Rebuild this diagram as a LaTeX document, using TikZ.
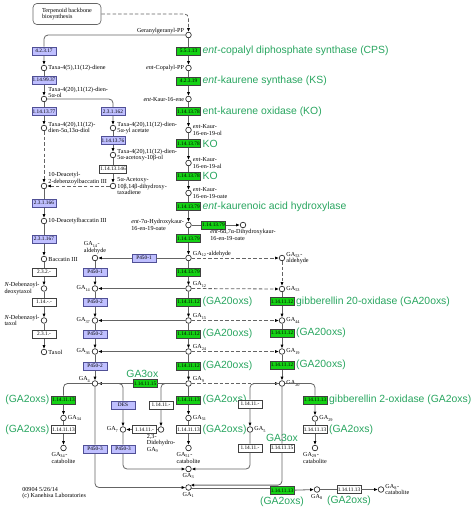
\documentclass[tikz,border=0pt]{standalone}
\usepackage{fontspec}
\setmainfont{Liberation Serif}
\newfontfamily\sansgreen{Liberation Sans}
\usetikzlibrary{arrows.meta}
\definecolor{kgreen}{RGB}{20,210,20}
\definecolor{kblue}{RGB}{191,191,255}
\definecolor{kbluedraw}{RGB}{80,80,150}
\definecolor{ktext}{RGB}{40,165,95}
\definecolor{kline}{RGB}{100,100,100}
\newcommand{\GAn}[1]{GA\textsubscript{#1}}
\tikzset{
  cpd/.style={circle,draw=black!85,fill=white,line width=0.5pt,inner sep=0pt,minimum size=4.2pt},
  enz/.style={rectangle,draw=black!75,line width=0.45pt,inner xsep=0.5pt,inner ysep=0pt,
    minimum width=18pt,minimum height=6.3pt,font=\fontsize{4}{4}\selectfont},
  gbox/.style={enz,fill=kgreen},
  bbox/.style={enz,fill=kblue,draw=kbluedraw},
  wbox/.style={enz,fill=white},
  terpbox/.style={rectangle,rounded corners=3pt,draw=black!60,line width=0.5pt,
    minimum width=51pt,minimum height=13.5pt,font=\fontsize{4.6}{5}\selectfont,align=left},
  lbl/.style={font=\fontsize{4.6}{4.9}\selectfont,inner sep=0.8pt,align=left},
  lblne/.style={lbl,anchor=south west},
  glbl/.style={font=\sansgreen\fontsize{7.8}{8}\selectfont,text=ktext,inner sep=1.2pt},
  rxn/.style={draw=kline,line width=0.6pt,rounded corners=3pt},
  arr/.style={-{Latex[length=2.8pt,width=2.4pt,color=black]}},
  dashrxn/.style={rxn,dash pattern=on 2.6pt off 1.6pt},
}
\begin{document}
\begin{tikzpicture}[x=0.75pt,y=-0.75pt]
  \useasboundingbox (0,0) rectangle (474,512);
  % diterpenoid trunk
  \path
    (67,14) node[terpbox] (terp) {Terpenoid backbone\\biosynthesis}
    (188.5,35) node[cpd,label={[lbl,anchor=south east]west:Geranylgeranyl-PP}] (ggpp) {}
    (188.5,51) node[gbox,label={[glbl]right:\textit{ent}-copalyl diphosphate synthase (CPS)}] (ecps) {5.5.1.13}
    (188.5,68) node[cpd,label={[lbl]left:\textit{ent}-Copalyl-PP}] (cpp) {}
    (188.5,81) node[gbox,label={[glbl]right:\textit{ent}-kaurene synthase (KS)}] (eks) {4.2.3.19}
    (188.5,99) node[cpd,label={[lbl]left:\textit{ent}-Kaur-16-ene}] (kaur) {}
    (188.5,111.5) node[gbox,label={[glbl]right:ent-kaurene oxidase (KO)}] (eko1) {1.14.13.78}
    (188.5,130) node[cpd,label={[lbl]right:\textit{ent}-Kaur-\\16-en-19-ol}] (kol) {}
    (188.5,143.5) node[gbox,label={[glbl]right:KO}] (eko2) {1.14.13.78}
    (188.5,163) node[cpd,label={[lbl]right:\textit{ent}-Kaur-\\16-en-19-al}] (kal) {}
    (188.5,176) node[gbox,label={[glbl]right:KO}] (eko3) {1.14.13.78}
    (188.5,193) node[cpd,label={[lbl]right:\textit{ent}-Kaur-\\16-en-19-oate}] (koate) {}
    (188.5,206.5) node[gbox,label={[glbl]right:\textit{ent}-kaurenoic acid hydroxylase}] (ekah1) {1.14.13.79}
    (188.5,225) node[cpd,label={[lbl]left:\textit{ent}-7α-Hydroxykaur-\\16-en-19-oate}] (hkoate) {}
    (213.5,225) node[gbox] (ekah2) {1.14.13.79}
    (243,225) node[cpd,label={[lbl]below:{\textit{ent}-6α,7α-Dihydroxykaur-\\16-en-19-oate}}] (dhkoate) {}
    (188.5,238.5) node[gbox] (ekah3) {1.14.13.79}
    (188.5,258) node[cpd,label={[lblne]east:\GAn{12}-aldehyde}] (ga12ald) {}
    (188.5,272) node[gbox] (ekah4) {1.14.13.79}
    (188.5,288.5) node[cpd,label={[lblne]east:\GAn{12}}] (ga12) {}
    (188.5,302) node[gbox,label={[glbl]right:(GA20oxs)}] (eox1) {1.14.11.12}
    (188.5,320.5) node[cpd,label={[lblne]east:\GAn{15}}] (ga15) {}
    (188.5,334) node[gbox,label={[glbl]right:(GA20oxs)}] (eox2) {1.14.11.12}
    (188.5,351.5) node[cpd,label={[lblne]east:\GAn{24}}] (ga24) {}
    (188.5,366) node[gbox,label={[glbl]right:(GA20oxs)}] (eox3) {1.14.11.12}
    (188.5,383.5) node[cpd,label={[lblne]east:\GAn{9}}] (ga9) {}
    (188.5,400) node[gbox,label={[glbl]right:(GA2oxs)}] (e2oxc1) {1.14.11.13}
    (188.5,418) node[cpd,label={[lbl]right:\GAn{51}}] (ga51) {}
    (188.5,429.5) node[wbox,label={[glbl]right:(GA2oxs)}] (e2oxc2) {1.14.11.13}
    (188.5,448) node[cpd,label={[lbl]below:\GAn{51}-\\catabolite}] (ga51c) {}
    (188.5,469) node[cpd,label={[lbl]below:\GAn{3}}] (ga3) {}
    (188.5,487.5) node[cpd,label={[lbl]below:\GAn{1}}] (ga1) {};
  % non-13-hydroxylation side
  \path
    (282,258) node[cpd,label={[lbl]right:\GAn{53}-\\aldehyde}] (ga53ald) {}
    (282,289) node[cpd,label={[lbl]right:\GAn{53}}] (ga53) {}
    (282,301.5) node[gbox,label={[glbl]right:gibberellin 20-oxidase (GA20oxs)}] (eoxr1) {1.14.11.12}
    (282,320.5) node[cpd,label={[lbl]right:\GAn{44}}] (ga44) {}
    (282,333) node[gbox,label={[glbl]right:(GA20oxs)}] (eoxr2) {1.14.11.12}
    (282,351.5) node[cpd,label={[lbl]right:\GAn{19}}] (ga19) {}
    (282,365) node[gbox,label={[glbl]right:(GA20oxs)}] (eoxr3) {1.14.11.12}
    (282,383.5) node[cpd,label={[lbl]right:\GAn{20}}] (ga20) {}
    (95,258) node[cpd,label={[lbl]above:\GAn{14}-\\aldehyde}] (ga14ald) {}
    (144,258) node[bbox] (p1a) {P450-1}
    (95,272) node[bbox] (p1b) {P450-1}
    (95,288.5) node[cpd,label={[lbl]left:\GAn{14}}] (ga14) {}
    (95,302) node[bbox] (p2a) {P450-2}
    (95,320.5) node[cpd,label={[lbl]left:\GAn{37}}] (ga37) {}
    (95,334) node[bbox] (p2b) {P450-2}
    (95,351.5) node[cpd,label={[lbl]left:\GAn{36}}] (ga36) {}
    (95,366) node[bbox] (p2c) {P450-2}
    (95,383.5) node[cpd,label={[lbl,anchor=south east]west:\GAn{4}}] (ga4) {}
    (145,383.5) node[gbox,label={[glbl,xshift=-2pt]above:GA3ox}] (e3ox1) {1.14.11.15}
    (63.5,400) node[gbox,label={[glbl]left:(GA2oxs)}] (e2oxl1) {1.14.11.13}
    (63.5,418) node[cpd,label={[lbl]right:\GAn{34}}] (ga34) {}
    (63.5,429.5) node[wbox,label={[glbl]left:(GA2oxs)}] (e2oxl2) {1.14.11.13}
    (63.5,448) node[cpd,label={[lbl]below:\GAn{34}-\\catabolite}] (ga34c) {}
    (123,405) node[bbox] (edes) {DES}
    (123,429.5) node[cpd,label={[lbl]left:\GAn{7}}] (ga7) {}
    (144.5,429.5) node[wbox] (e1411a) {1.14.11.-}
    (161,405) node[wbox] (e1411b) {1.14.11.-}
    (161,429.5) node[cpd,label={[lbl]below:{2,3-\\Didehydro-\\\GAn{9}}}] (ddga9) {}
    (95,449) node[bbox] (p3a) {P450-3}
    (123,449) node[bbox] (p3b) {P450-3}
    (250,404) node[wbox] (e1411c) {1.14.11.-}
    (250,429.5) node[cpd,label={[lbl]right:\GAn{5}}] (ga5) {}
    (250,448) node[wbox] (e1411d) {1.14.11.-}
    (282,448) node[wbox,label={[glbl]above:GA3ox}] (e3ox2) {1.14.11.15}
    (315,400) node[gbox,label={[glbl]right:gibberellin 2-oxidase (GA2oxs)}] (e2oxr1) {1.14.11.13}
    (315,418.5) node[cpd,label={[lbl]right:\GAn{29}}] (ga29) {}
    (315,429.5) node[wbox,label={[glbl]right:(GA2oxs)}] (e2oxr2) {1.14.11.13}
    (315,448) node[cpd,label={[lbl]below:\GAn{29}-\\catabolite}] (ga29c) {}
    (282,490.5) node[gbox,label={[glbl]below:(GA2oxs)}] (e2oxb1) {1.14.11.13}
    (317,489.5) node[cpd,label={[lbl]below:\GAn{8}}] (ga8) {}
    (349,489.5) node[wbox,label={[glbl]below:(GA2oxs)}] (e2oxb2) {1.14.11.13}
    (381,489.5) node[cpd,label={[lbl]right:\GAn{8}-\\catabolite}] (ga8c) {}
    (21,486) node[lbl,anchor=north west] (stamp) {00904 5/26/14\\(c) Kanehisa Laboratories};
  % taxol branch
  \path
    (44,51) node[bbox] (etxs) {4.2.3.17}
    (44,68) node[cpd,label={[lbl]right:{Taxa-4(5),11(12)-diene}}] (txd) {}
    (44,80) node[bbox] (et5ah) {1.14.99.37}
    (44,99) node[cpd,label={[lblne]east:{Taxa-4(20),11(12)-dien-\\5α-ol}}] (tdol) {}
    (44,111.5) node[bbox] (et13h) {1.14.13.77}
    (44,128) node[cpd,label={[lbl]right:{Taxa-4(20),11(12)-\\dien-5α,13α-diol}}] (tdiol) {}
    (113,111.5) node[bbox] (etat) {2.3.1.162}
    (113,128) node[cpd,label={[lbl]right:{Taxa-4(20),11(12)-dien-\\5α-yl acetate}}] (tacet) {}
    (113,140.5) node[bbox] (et10h) {1.14.13.76}
    (113,155) node[cpd,label={[lbl]right:{Taxa-4(20),11(12)-dien-\\5α-acetoxy-10β-ol}}] (tacol) {}
    (113,169) node[wbox] (et14h) {1.14.13.146}
    (113,186) node[cpd,label={[lbl]right:{5α-Acetoxy-\\10β,14β-dihydroxy-\\taxadiene}}] (tdihyd) {}
    (44,186) node[cpd,label={[lblne]east:{10-Deacetyl-\\2-debenzoylbaccatin III}}] (dadb) {}
    (44,203) node[bbox] (etbt) {2.3.1.166}
    (44,221) node[cpd,label={[lbl]right:10-Deacetylbaccatin III}] (dab) {}
    (44,239) node[bbox] (edbat) {2.3.1.167}
    (44,259) node[cpd,label={[lbl]right:Baccatin III}] (bac) {}
    (44,272) node[wbox] (e232) {2.3.2.-}
    (44,288.5) node[cpd,label={[lbl]left:\textit{N}-Debenzoyl-\\deoxytaxol}] (ndt) {}
    (44,302) node[wbox] (e114) {1.14.-.-}
    (44,320.5) node[cpd,label={[lbl]left:\textit{N}-Debenzoyl-\\taxol}] (ntx) {}
    (44,334) node[wbox] (e231) {2.3.1.-}
    (44,352) node[cpd,label={[lbl]right:Taxol}] (taxol) {};
  \begin{scope}[rxn]
    \draw[dashrxn,arr] (terp) -| (ggpp);
    \draw[arr] (ggpp) -- (ecps) -- (cpp);
    \draw[arr] (cpp) -- (eks) -- (kaur);
    \draw[arr] (kaur) -- (eko1) -- (kol);
    \draw[arr] (kol) -- (eko2) -- (kal);
    \draw[arr] (kal) -- (eko3) -- (koate);
    \draw[arr] (koate) -- (ekah1) -- (hkoate);
    \draw[arr] (hkoate) -- (ekah2) -- (dhkoate);
    \draw[arr] (hkoate) -- (ekah3) -- (ga12ald);
    \draw[arr] (ga12ald) -- (ekah4) -- (ga12);
    \draw[arr] (ga12) -- (eox1) -- (ga15);
    \draw[arr] (ga15) -- (eox2) -- (ga24);
    \draw[arr] (ga24) -- (eox3) -- (ga9);
    \draw[arr] (ga9) -- (e2oxc1) -- (ga51);
    \draw[arr] (ga51) -- (e2oxc2) -- (ga51c);
    \draw[dashrxn,arr] (ga12ald) -- (ga53ald);
    \draw[dashrxn,arr] (ga53ald) -- (ga53);
    \draw[dashrxn,arr] (ga12) -- (ga53);
    \draw[dashrxn,arr] (ga15) -- (ga44);
    \draw[dashrxn,arr] (ga24) -- (ga19);
    \draw[dashrxn,arr] (ga9) -- (ga20);
    \draw[arr] (ga53) -- (eoxr1) -- (ga44);
    \draw[arr] (ga44) -- (eoxr2) -- (ga19);
    \draw[arr] (ga19) -- (eoxr3) -- (ga20);
    \draw[arr] (ga12ald) -- (p1a) -- (ga14ald);
    \draw[arr] (ga14ald) -- (p1b) -- (ga14);
    \draw[arr] (ga12) -- (ga14);
    \draw[arr] (ga14) -- (p2a) -- (ga37);
    \draw[arr] (ga15) -- (ga37);
    \draw[arr] (ga37) -- (p2b) -- (ga36);
    \draw[arr] (ga24) -- (ga36);
    \draw[arr] (ga36) -- (p2c) -- (ga4);
    \draw[arr] (ga9) -- (e3ox1) -- (ga4);
    \draw[arr] (ga4) -| (e2oxl1) -- (ga34);
    \draw[arr] (ga34) -- (e2oxl2) -- (ga34c);
    \draw[arr] (ga4) -| (edes) -- (ga7);
    \draw[arr] (ga9) -| (e1411b) -- (ddga9);
    \draw[arr] (ddga9) -- (e1411a) -- (ga7);
    \draw[arr] (ga7) -- (p3b) |- (ga3);
    \draw[arr] (ga4) -- (p3a) |- (ga1);
    \draw[arr] (ga20) -| (e1411c) -- (ga5);
    \draw[arr] (ga5) -- (e1411d) |- (ga3);
    \draw[arr] (ga20) -| (e2oxr1) -- (ga29);
    \draw[arr] (ga29) -- (e2oxr2) -- (ga29c);
    \draw[arr] (ga20) -- (e3ox2) |- (ga1.50);
    \draw (ga1.-25) -- (ga1.-25 -| e2oxb1.west);
    \draw[arr] (e2oxb1) -- (ga8);
    \draw[arr] (ga8) -- (e2oxb2) -- (ga8c);
    % taxol
    \draw[arr] (ggpp) -| (etxs) -- (txd);
    \draw[arr] (txd) -- (et5ah) -- (tdol);
    \draw[arr] (tdol) -- (et13h) -- (tdiol);
    \draw[arr] (tdol) -| (etat) -- (tacet);
    \draw[dashrxn,arr] (tdiol) -- (dadb);
    \draw[arr] (tacet) -- (et10h) -- (tacol);
    \draw[arr] (tacol) -- (et14h) -- (tdihyd);
    \draw[dashrxn,arr] (tdihyd) -- (dadb);
    \draw[arr] (dadb) -- (etbt) -- (dab);
    \draw[arr] (dab) -- (edbat) -- (bac);
    \draw[arr] (bac) -- (e232) -- (ndt);
    \draw[arr] (ndt) -- (e114) -- (ntx);
    \draw[arr] (ntx) -- (e231) -- (taxol);
  \end{scope}
\end{tikzpicture}
\end{document}
